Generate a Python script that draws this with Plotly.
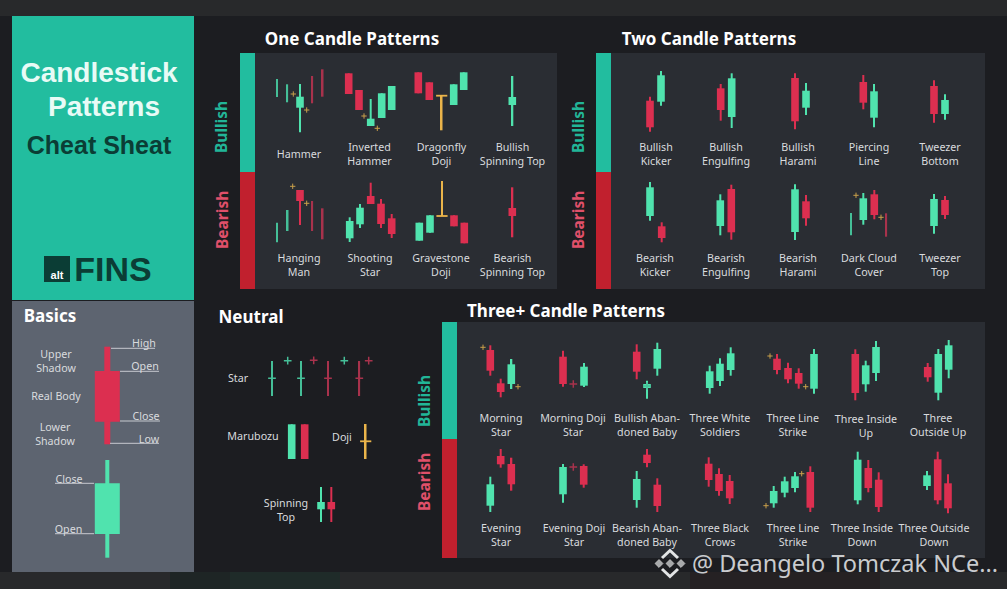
# CANDLESTICK CHEAT SHEET

import plotly.graph_objects as go

### INPUTS

up_color = "#50e3ae"
down_color = "#dc2f50"
up_thin = "#45bf98"
down_thin = "#a8324c"
doji_color = "#eab44a"
label_color = "#d9dbde"

### DATA

# Background blocks: x0, x1, y0, y1, colour
block_x0 = [0, 0, 170, 230, 690, 12, 12, 240, 255, 596, 611, 442, 457, 240, 596, 442, 44]
block_x1 = [1007, 1007, 230, 340, 880, 194, 194, 255, 557, 611, 985, 457, 985, 255, 611, 457, 70]
block_y0 = [0, 16, 572, 572, 572, 16, 301, 53, 53, 53, 53, 322, 322, 172, 172, 439, 256]
block_y1 = [589, 572, 589, 589, 589, 300, 572, 172, 289, 172, 289, 439, 558, 289, 289, 558, 282]
block_color = [
    "#28292b", "#1c1d21", "#1e2525", "#1f2b29", "#252123", "#22bd9f", "#5d6470",
    "#22bd9f", "#2a2d33", "#22bd9f", "#2a2d33", "#22bd9f", "#2a2d33",
    "#c1202e", "#c1202e", "#c1202e", "#0b3d35",
]

# Candles, one row per pattern: centre, wick top, body top, body bottom, wick bottom
candle_x = [
    300,                            # hammer
    348.7, 359, 370.7, 381.7, 391.7,  # inverted hammer
    418.3, 429.3, 453.7, 463.7,     # dragonfly doji
    512.3,                          # bullish spinning top
    300,                            # hanging man
    349.7, 360, 370.7, 381, 391.7,  # shooting star
    419.3, 430, 454, 464.3,         # gravestone doji
    512.3,                          # bearish spinning top
    650, 661, 720.7, 731.7, 795, 806, 863.3, 874, 934, 945,
    650, 661.7, 720.3, 731.3, 795, 806, 863.3, 874.3, 934, 945,
    291.7, 304.7, 321, 331.3,       # marubozu, spinning top
    490.3, 500.7, 511.3, 563, 584, 636.7, 647, 657.3,
    709.7, 720, 730.7, 777, 788, 798.7, 814, 855.3, 865.7, 876, 927.7, 938.3, 948.7,
    490.3, 500.7, 511.3, 563, 583.7, 636.7, 647, 657.3,
    708.7, 719, 729.7, 773.7, 784.7, 795, 810.3, 857.7, 868.3, 878.7, 927, 937.7, 948,
]
candle_high = [
    84,
    73.3, 90, 99, 93.3, 86,
    72.3, 82.3, 84.3, 72.3,
    76,
    190,
    217.3, 204, 182.7, 199, 214,
    222.7, 215.3, 215.3, 222.7,
    187.3,
    96.7, 71, 84, 73.3, 73.3, 83, 75, 84, 80.3, 94.3,
    182, 222.3, 194.3, 184.7, 184.3, 195, 193, 190, 194, 196,
    424.3, 424.3, 487, 487,
    345.3, 378.7, 359, 350.7, 363, 344.3, 380.7, 342.7,
    365.7, 358.3, 347.3, 354, 362.7, 368.3, 349, 349.3, 360.7, 341, 363, 349, 340,
    476.7, 449, 457.7, 464, 464.3, 471, 449, 478.3,
    457.3, 468.3, 475, 486, 476.7, 472, 466.3, 451.7, 460, 472.3, 471, 451.7, 474.3,
]
candle_top = [
    96.7,
    73.3, 90, 118.7, 93.3, 86,
    72.3, 82.3, 84.3, 72.3,
    97,
    190,
    221, 207.7, 196, 203.7, 218.3,
    222.7, 215.3, 215.3, 222.7,
    208,
    100.7, 75.3, 88.3, 78.3, 78, 90.7, 82, 91.3, 86, 100,
    187.3, 226.3, 200.3, 189, 189.3, 201.3, 198.3, 194.3, 199, 200,
    424.3, 424.3, 502, 502,
    350, 383.3, 364.3, 356.7, 366.7, 351.7, 384, 349,
    371.3, 363.7, 353.3, 358.7, 368, 373, 354, 354, 365.3, 347, 367, 354, 345.3,
    484.3, 456, 464, 467, 466, 479, 454.7, 484.7,
    463.7, 474, 481, 491, 481.3, 476.3, 472, 459.7, 468, 479.7, 475.3, 459.3, 483.3,
]
candle_bottom = [
    107.7,
    94, 110, 126, 118, 110,
    93.3, 100, 105, 90,
    105,
    201,
    238.3, 224.3, 204, 224, 234,
    240.7, 232.7, 226.3, 243.3,
    216,
    127.3, 101.7, 110, 117, 121.3, 107.7, 102.7, 117.7, 114, 114,
    216, 238, 226, 232.3, 232, 218.3, 220, 215, 226, 215,
    459, 459, 509.3, 509.3,
    370.7, 392, 384, 384, 385.7, 371.7, 388, 368.7,
    388, 381, 370, 370, 379.3, 383.7, 388.7, 393, 384.3, 373, 377.3, 392.7, 369.7,
    505.7, 464.3, 484.3, 494.3, 484.7, 500, 463, 506,
    480, 491, 498.3, 503.3, 492.7, 488, 507.7, 500.3, 488, 507, 486, 500.3, 508.3,
]
candle_low = [
    132.3,
    94, 110, 126, 118, 110,
    93.3, 100, 105, 90,
    126,
    225,
    242, 228, 204, 228, 238,
    240.7, 232.7, 226.3, 243.3,
    237.3,
    131.7, 105.7, 120.7, 128, 129.3, 115, 109.3, 127.3, 122.7, 119.7,
    220.7, 242.3, 235.3, 239.7, 240, 225.7, 224.7, 219.3, 233.7, 219,
    459, 459, 522, 522,
    375.7, 397.3, 389, 386.7, 387, 379.3, 398.7, 375.7,
    393.7, 386, 375.7, 374.3, 383.3, 388.7, 393.7, 400.3, 391.7, 381, 381.7, 400.3, 378.3,
    512, 467.7, 490.7, 502.7, 487.7, 507.7, 467.3, 512,
    486.7, 495.7, 504, 507.7, 497.3, 492.3, 512, 504.3, 492.3, 512, 490, 504.3, 513.3,
]
candle_up = [
    1,
    0, 0, 1, 1, 1,
    0, 0, 1, 1,
    1,
    0,
    1, 1, 0, 0, 0,
    1, 1, 0, 0,
    0,
    0, 1, 0, 1, 0, 1, 0, 1, 0, 1,
    1, 0, 1, 0, 1, 0, 1, 0, 1, 0,
    1, 0, 1, 0,
    0, 0, 1, 0, 1, 0, 1, 1,
    1, 1, 1, 0, 0, 0, 1, 0, 1, 1, 0, 1, 1,
    1, 0, 0, 1, 0, 1, 0, 0,
    0, 0, 0, 1, 1, 1, 0, 1, 0, 0, 1, 0, 0,
]

# The two big candles of the Basics panel: high, open, close, low
basics_x = [107.3, 107.3]
basics_high = [346.7, 460]
basics_top = [371, 483.3]
basics_bottom = [421.7, 534]
basics_low = [444.3, 557.7]
basics_up = [0, 1]

# Thin context lines and star stems
thin_x = [277, 287.3, 312.3, 322.7, 277, 287.7, 312.3, 322.7, 851, 886.3, 272, 301, 328, 359.3]
thin_top = [79, 84.3, 76, 69.3, 222.7, 210, 201, 208.3, 213, 213.3, 361, 361, 361, 361]
thin_bottom = [97, 102.3, 103.3, 96.7, 242.3, 231, 231, 239.3, 235.3, 236.7, 396, 396, 396, 396]
thin_up = [1, 1, 0, 0, 1, 1, 0, 0, 1, 0, 1, 1, 0, 0]

# Doji stems
doji_x = [441.7, 442, 365.7]
doji_top = [95.7, 181, 424]
doji_bottom = [130.3, 216, 459]
doji_tick_y = [95.7, 216, 441.3]

# Small crosses
cross_x = [293.3, 306.7, 364, 377.3, 292.7, 306.7, 856, 881, 483, 518, 770, 805.7, 766, 801.7]
cross_y = [94, 110, 116, 128.3, 186.3, 203.3, 195.3, 217.3, 347.3, 386.7, 356, 386.7, 505.7, 473.7]
star_x = [272, 287.7, 301, 313.7, 328, 344.3, 359.3, 368.7, 573.3, 573.3, 647]
star_y = [378.3, 360.7, 378.3, 360.3, 378.3, 360.7, 378.3, 360.7, 384, 467, 386]
star_up = [1, 1, 1, 0, 0, 1, 0, 0, 0, 0, 1]

# Leader lines of the Basics panel
leader_x0 = [111, 120, 120, 110, 55, 55]
leader_x1 = [155, 159, 160, 159, 94, 94]
leader_y = [348.3, 371.3, 421, 443.3, 483.3, 533.7]

# Pattern names
label_x = [
    299, 369.5, 441.5, 512.5, 299, 370, 441, 512.5,
    656, 726, 798, 869, 940, 655, 726, 798, 869, 940,
    501, 573, 647, 720, 792.7, 866, 938,
    501, 574, 647, 720, 793, 862, 934,
    238, 253, 342, 286,
    56, 56, 55, 144, 145, 146, 149, 69, 68.5,
]
label_y = [
    155, 155, 155, 155, 266, 266, 266, 266,
    155, 155, 155, 155, 155, 266, 266, 266, 266, 266,
    426, 426, 426, 426, 426, 427, 426,
    536, 536, 536, 536, 536, 536, 536,
    379, 437, 438, 511,
    362, 397, 435, 344, 367, 417, 440, 480, 530,
]
label_text = [
    "Hammer", "Inverted<br>Hammer", "Dragonfly<br>Doji", "Bullish<br>Spinning Top",
    "Hanging<br>Man", "Shooting<br>Star", "Gravestone<br>Doji", "Bearish<br>Spinning Top",
    "Bullish<br>Kicker", "Bullish<br>Engulfing", "Bullish<br>Harami", "Piercing<br>Line",
    "Tweezer<br>Bottom", "Bearish<br>Kicker", "Bearish<br>Engulfing", "Bearish<br>Harami",
    "Dark Cloud<br>Cover", "Tweezer<br>Top",
    "Morning<br>Star", "Morning Doji<br>Star", "Bullish Aban-<br>doned Baby",
    "Three White<br>Soldiers", "Three Line<br>Strike", "Three Inside<br>Up",
    "Three<br>Outside Up",
    "Evening<br>Star", "Evening Doji<br>Star", "Bearish Aban-<br>doned Baby",
    "Three Black<br>Crows", "Three Line<br>Strike", "Three Inside<br>Down",
    "Three Outside<br>Down",
    "Star", "Marubozu", "Doji", "Spinning<br>Top",
    "Upper<br>Shadow", "Real Body", "Lower<br>Shadow", "High", "Open", "Close", "Low",
    "Close", "Open",
]

# Section headings
heading_x = [352, 709, 251, 566, 50]
heading_y = [41, 41, 319, 313, 318]
heading_text = ["One Candle Patterns", "Two Candle Patterns", "Neutral",
                "Three+ Candle Patterns", "Basics"]

# Rotated side labels
side_x = [221, 222, 578, 578, 424, 424]
side_y = [127, 220, 127, 220, 401, 482]
side_text = ["Bullish", "Bearish", "Bullish", "Bearish", "Bullish", "Bearish"]

# Title block
title_x = [99, 104]
title_y = [75, 109]
title_text = ["Candlestick", "Patterns"]

# Watermark icon
icon_dot_x = [670, 659, 681]
icon_dot_y = [563.5, 563.5, 563.5]
icon_line_x = [662, 670, 678, None, 662, 670, 678]
icon_line_y = [558, 550.5, 558, None, 569, 576.5, 569]

### VISUALISATION


def pick(flags, yes, no):
    return [yes if f else no for f in flags]


def spans(top, bottom):
    return [b - t for t, b in zip(top, bottom)]


fig = go.Figure()

# Wicks
fig.add_trace(
    go.Bar(
        x=candle_x,
        y=spans(candle_high, candle_low),
        base=candle_high,
        width=2,
        marker=dict(color=pick(candle_up, up_color, down_color), line_width=0),
    )
)
# Bodies
fig.add_trace(
    go.Bar(
        x=candle_x,
        y=spans(candle_top, candle_bottom),
        base=candle_top,
        width=7.6,
        marker=dict(color=pick(candle_up, up_color, down_color), line_width=0),
    )
)
# Basics
fig.add_trace(
    go.Bar(
        x=basics_x,
        y=spans(basics_high, basics_low),
        base=basics_high,
        width=[6, 4],
        marker=dict(color=pick(basics_up, up_color, down_color), line_width=0),
    )
)
fig.add_trace(
    go.Bar(
        x=basics_x,
        y=spans(basics_top, basics_bottom),
        base=basics_top,
        width=25,
        marker=dict(color=pick(basics_up, up_color, down_color), line_width=0),
    )
)
# Thin lines
fig.add_trace(
    go.Bar(
        x=thin_x,
        y=spans(thin_top, thin_bottom),
        base=thin_top,
        width=1.6,
        marker=dict(color=pick(thin_up, up_thin, down_thin), line_width=0),
    )
)
# Doji stems and their ticks
fig.add_trace(
    go.Bar(
        x=doji_x,
        y=spans(doji_top, doji_bottom),
        base=doji_top,
        width=1.6,
        marker=dict(color=doji_color, line_width=0),
    )
)
fig.add_trace(
    go.Scatter(
        x=doji_x,
        y=doji_tick_y,
        mode="markers",
        marker=dict(symbol="line-ew", size=8, color=doji_color, line=dict(color=doji_color, width=1.8)),
    )
)
# Crosses
fig.add_trace(
    go.Scatter(
        x=cross_x,
        y=cross_y,
        mode="markers",
        marker=dict(symbol="cross-thin", size=3.8, color="#c9a04a", line=dict(color="#c9a04a", width=1)),
    )
)
fig.add_trace(
    go.Scatter(
        x=star_x,
        y=star_y,
        mode="markers",
        marker=dict(
            symbol="cross-thin",
            size=5.5,
            color=pick(star_up, up_thin, down_thin),
            line=dict(color=pick(star_up, up_thin, down_thin), width=1.5),
        ),
    )
)
# Leader lines
leader_xs, leader_ys = [], []
for x0, x1, y in zip(leader_x0, leader_x1, leader_y):
    leader_xs += [x0, x1, None]
    leader_ys += [y, y, None]
fig.add_trace(
    go.Scatter(
        x=leader_xs, y=leader_ys, mode="lines", line=dict(color="#e3e5e8", width=0.8)
    )
)
# Text
fig.add_trace(
    go.Scatter(
        x=label_x,
        y=label_y,
        text=label_text,
        mode="text",
        textposition="middle center",
        textfont=dict(family="Noto Sans", size=10.7, color=label_color),
    )
)
fig.add_trace(
    go.Scatter(
        x=heading_x,
        y=heading_y,
        text=heading_text,
        mode="text",
        textposition="middle center",
        textfont=dict(family="Noto Sans", size=17, color="#ffffff", weight="bold"),
    )
)
fig.add_trace(
    go.Scatter(
        x=title_x,
        y=title_y,
        text=title_text,
        mode="text",
        textfont=dict(family="Liberation Sans", size=28, color="#e8fbf6", weight="bold"),
    )
)
fig.add_trace(
    go.Scatter(
        x=[99, 113],
        y=[148, 272],
        text=["Cheat Sheat", "FINS"],
        mode="text",
        textfont=dict(family="Liberation Sans", size=[25, 34], color="#0b3d35", weight="bold"),
    )
)
fig.add_trace(
    go.Scatter(
        x=[57],
        y=[276],
        text=["alt"],
        mode="text",
        textfont=dict(family="Liberation Sans", size=11, color="#ffffff", weight="bold"),
    )
)

# Watermark
fig.add_trace(
    go.Scatter(
        x=[845],
        y=[566],
        text=["@ Deangelo Tomczak NCe..."],
        mode="text",
        textfont=dict(family="Noto Sans", size=23.5, color="#c9cbce"),
    )
)
fig.add_trace(
    go.Scatter(
        x=icon_dot_x,
        y=icon_dot_y,
        mode="markers",
        marker=dict(symbol="diamond", size=[6, 6, 6], color="#e3e5e6"),
    )
)
fig.add_trace(
    go.Scatter(
        x=icon_line_x,
        y=icon_line_y,
        mode="lines",
        line=dict(color="#e3e5e6", width=3),
    )
)

for x, y, text in zip(side_x, side_y, side_text):
    fig.add_annotation(
        x=x,
        y=y,
        text=text,
        textangle=-90,
        showarrow=False,
        font=dict(
            family="Noto Sans",
            size=15.5,
            weight="bold",
            color="#22b598" if text == "Bullish" else "#e0506a",
        ),
    )

for x0, x1, y0, y1, color in zip(block_x0, block_x1, block_y0, block_y1, block_color):
    fig.add_shape(
        type="rect", x0=x0, x1=x1, y0=y0, y1=y1, fillcolor=color, line_width=0, layer="below"
    )

fig.update_xaxes(range=[0, 1007], visible=False, fixedrange=True)
fig.update_yaxes(range=[589, 0], visible=False, fixedrange=True)
fig.update_layout(
    width=1007,
    height=589,
    margin=dict(l=0, r=0, t=0, b=0),
    barmode="overlay",
    showlegend=False,
    hovermode=False,
    plot_bgcolor="#1c1d21",
    paper_bgcolor="#1c1d21",
)

# Page margin would push the picture off the window
fig.write_html(
    "out.html",
    config={"displayModeBar": False},
    post_script="document.body.style.margin='0';document.body.style.overflow='hidden';",
)
